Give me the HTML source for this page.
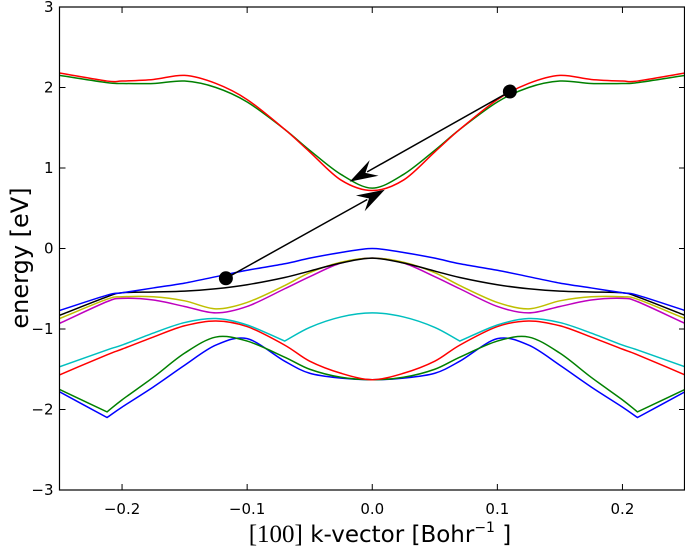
<!DOCTYPE html>
<html><head><meta charset="utf-8"><style>
body{margin:0;background:#fff}
svg{font-family:"DejaVu Sans","Liberation Sans",sans-serif}
</style></head><body>
<svg id="c" width="685" height="549"></svg>
<script>
const kPos=[0,0.025,0.05,0.07,0.1,0.125,0.15,0.175,0.2,0.212,0.25];
const bandCondRed=[0.72,0.85,1.2,1.48,1.85,2.05,2.15,2.1,2.08,2.08,2.18];
const bandCondGreen=[0.75,0.92,1.22,1.48,1.82,2.0,2.08,2.05,2.05,2.06,2.15];
const bandBlueTop=[0,-0.05,-0.12,-0.19,-0.27,-0.35,-0.43,-0.49,-0.55,-0.58,-0.77];
const bandBlack=[-0.12,-0.18,-0.28,-0.36,-0.45,-0.5,-0.53,-0.54,-0.55,-0.6,-0.83];
const bandYellow=[-0.12,-0.17,-0.3,-0.46,-0.67,-0.75,-0.65,-0.6,-0.6,-0.63,-0.87];
const bandMagenta=[-0.12,-0.18,-0.35,-0.5,-0.72,-0.8,-0.72,-0.64,-0.62,-0.66,-0.93];
const bandCyan=[-0.8,-0.85,-0.98,-1.15,-0.95,-0.87,-0.92,-1.05,-1.2,-1.26,-1.47];
const bandRedLow=[-1.63,-1.55,-1.4,-1.2,-0.97,-0.9,-0.96,-1.1,-1.25,-1.32,-1.57];
const bandGreenLow=[-1.63,-1.6,-1.5,-1.35,-1.15,-1.1,-1.3,-1.6,-1.88,-2.03,-1.75];
const bandBlueLow=[-1.63,-1.61,-1.55,-1.4,-1.12,-1.2,-1.45,-1.72,-1.97,-2.1,-1.78];
const xTicks=[-0.2,-0.1,0.0,0.1,0.2];
const xTickLabels=["\u22120.2","\u22120.1","0.0","0.1","0.2"];
const yTicks=[-3,-2,-1,0,1,2,3];
const yTickLabels=["\u22123","\u22122","\u22121","0","1","2","3"];
const arrowUp=[-0.117,-0.37,0.01,0.73];
const arrowDown=[0.11,1.95,-0.018,0.83];

const L=59.5,R=685,T=7,B=490;
const X=k=>L+(k+0.25)/0.5*(R-L);
const Y=e=>B-(e+3)/6*(B-T);
const svg=document.getElementById('c');
const NS='http://www.w3.org/2000/svg';
function mk(t,a){const e=document.createElementNS(NS,t);for(const k in a)e.setAttribute(k,a[k]);svg.appendChild(e);return e;}

const clip=mk('clipPath',{id:'pc'});
const cr=document.createElementNS(NS,'rect');
cr.setAttribute('x',L);cr.setAttribute('y',T);cr.setAttribute('width',R-L);cr.setAttribute('height',B-T);
clip.appendChild(cr);

function band(vals,color,name,kinks){
  const pts=[],kf=[];
  const n=kPos.length;
  for(let i=n-1;i>0;i--){pts.push([X(-kPos[i]),Y(vals[i])]);kf.push(kinks.includes(i));}
  for(let i=0;i<n;i++){pts.push([X(kPos[i]),Y(vals[i])]);kf.push(kinks.includes(i));}
  const t=0.16,m=pts.length;
  function tanIn(j){
    if(j===0||j===m-1||kf[j]){const a=pts[Math.max(0,j-1)],b=pts[j];return [(b[0]-a[0])*2*t,(b[1]-a[1])*2*t];}
    return [(pts[j+1][0]-pts[j-1][0])*t,(pts[j+1][1]-pts[j-1][1])*t];
  }
  function tanOut(j){
    if(j===0||j===m-1||kf[j]){const a=pts[j],b=pts[Math.min(m-1,j+1)];return [(b[0]-a[0])*2*t,(b[1]-a[1])*2*t];}
    return [(pts[j+1][0]-pts[j-1][0])*t,(pts[j+1][1]-pts[j-1][1])*t];
  }
  let d='M'+pts[0][0]+','+pts[0][1];
  for(let i=0;i<m-1;i++){
    const p1=pts[i],p2=pts[i+1],a=tanOut(i),b=tanIn(i+1);
    d+=' C'+(p1[0]+a[0])+','+(p1[1]+a[1])+' '+(p2[0]-b[0])+','+(p2[1]-b[1])+' '+p2[0]+','+p2[1];
  }
  const p=mk('path',{d:d,fill:'none',stroke:color,'stroke-width':1.5,'clip-path':'url(#pc)'});
  
  
}
band(bandCondGreen,'#008000','conduction-band-green',[]);
band(bandCondRed,'#ff0000','conduction-band-red',[]);
band(bandBlueLow,'#0000ff','valence-band-blue-low',[9]);
band(bandGreenLow,'#008000','valence-band-green-low',[9]);
band(bandRedLow,'#ff0000','valence-band-red-low',[]);
band(bandCyan,'#00bfbf','valence-band-cyan',[3]);
band(bandMagenta,'#bf00bf','valence-band-magenta',[]);
band(bandYellow,'#bfbf00','valence-band-yellow',[]);
band(bandBlack,'#000000','valence-band-black',[]);
band(bandBlueTop,'#0000ff','valence-band-blue-top',[]);

function arrow(a,name){
  const x1=X(a[0]),y1=Y(a[1]),x2=X(a[2]),y2=Y(a[3]);
  const ang=Math.atan2(y2-y1,x2-x1),len=28,w=9;
  const bx=x2-len*Math.cos(ang),by=y2-len*Math.sin(ang);
  const ln=mk('line',{x1:x1,y1:y1,x2:bx+8*Math.cos(ang),y2:by+8*Math.sin(ang),stroke:'#000','stroke-width':1.5});
  
  
  const nx=-Math.sin(ang),ny=Math.cos(ang);
  const hx=bx+10*Math.cos(ang),hy=by+10*Math.sin(ang);
  const hd=mk('polygon',{points:x2+','+y2+' '+(bx+nx*w)+','+(by+ny*w)+' '+hx+','+hy+' '+(bx-nx*w)+','+(by-ny*w),fill:'#000'});
  
  
  const c=mk('circle',{cx:x1,cy:y1,r:7,fill:'#000'});
  
  
}
arrow(arrowUp,'excitation-arrow');
arrow(arrowDown,'relaxation-arrow');

const fr=mk('rect',{x:L,y:T,width:R-L-0.5,height:B-T,fill:'none',stroke:'#000','stroke-width':1.2});



xTicks.forEach((v,i)=>{
  const x=X(v);
  mk('line',{x1:x,y1:B,x2:x,y2:B-6,stroke:'#000'});
  mk('line',{x1:x,y1:T,x2:x,y2:T+6,stroke:'#000'});
  const t=mk('text',{x:x,y:B+24,'text-anchor':'middle','font-size':15});
  t.textContent=xTickLabels[i];
  
  
});
yTicks.forEach((v,i)=>{
  const y=Y(v);
  mk('line',{x1:L,y1:y,x2:L+6,y2:y,stroke:'#000'});
  mk('line',{x1:R,y1:y,x2:R-6,y2:y,stroke:'#000'});
  const t=mk('text',{x:L-6,y:y+5,'text-anchor':'end','font-size':15});
  t.textContent=yTickLabels[i];
  
  
});
</script>
<svg width="685" height="549" style="position:absolute;left:0;top:0">
<text x="28" y="258" transform="rotate(-90 28 258)" text-anchor="middle" font-size="24" font-family="DejaVu Sans,sans-serif">energy [eV]</text>
<text x="380" y="542" text-anchor="middle" font-size="23" font-family="DejaVu Sans,sans-serif"><tspan font-family="Liberation Serif,serif" font-size="25">[100]</tspan> k-vector [Bohr<tspan font-size="14" dy="-10">−1</tspan><tspan dy="10"> ]</tspan></text>
</svg>
</body></html>
